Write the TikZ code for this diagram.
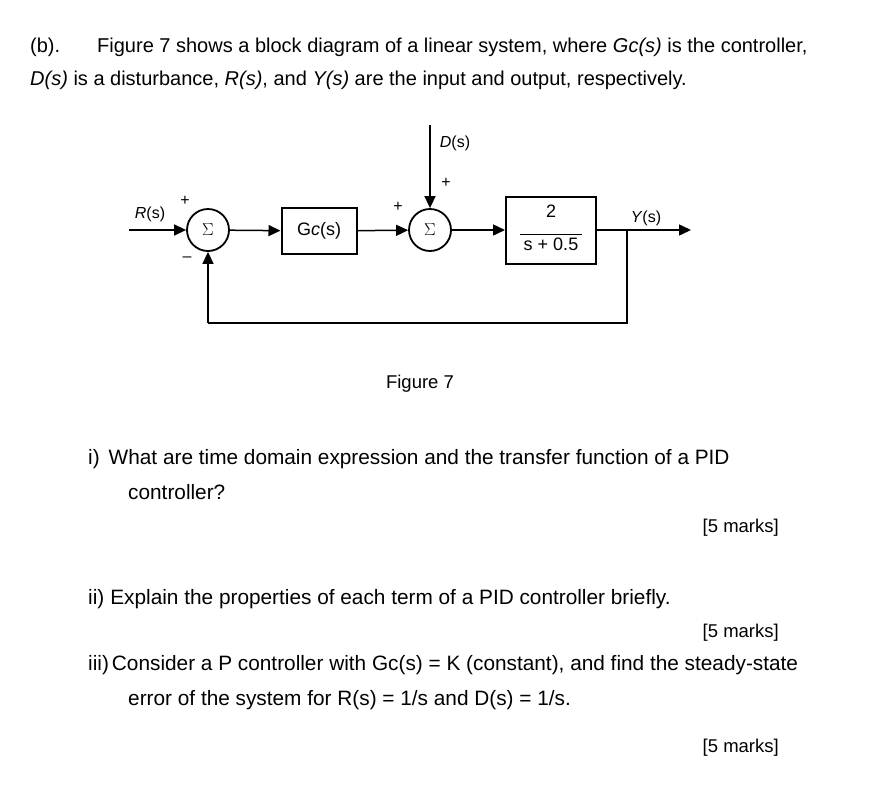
\documentclass[tikz,border=0pt]{standalone}
\usepackage{fontspec}
\setmainfont{Liberation Sans}
\usetikzlibrary{arrows.meta}
\begin{document}
\begin{tikzpicture}[x=1pt,y=-1pt,
  txt/.style={anchor=base west,inner sep=0,font=\fontsize{20}{22}\selectfont},
  qtxt/.style={anchor=base west,inner sep=0,font=\fontsize{20.8}{22}\selectfont},
  marks/.style={anchor=base east,inner sep=0,font=\fontsize{18.5}{20}\selectfont},
  dlab/.style={inner sep=0,font=\fontsize{16}{18}\selectfont},
  blk/.style={draw,line width=2pt,minimum width=75pt,minimum height=46pt,inner sep=0,font=\fontsize{18}{20}\selectfont},
  sumn/.style={circle,draw,line width=1.8pt,minimum size=42pt,inner sep=0,font=\fontsize{18}{20}\selectfont},
  sig/.style={line width=1.5pt,-{Triangle[length=12pt,width=11pt]}},
  ln/.style={line width=1.5pt}]
\useasboundingbox (0,0) rectangle (881,793);
\node[txt] (t1) at (30,52) {(b).};
\node[txt] (t1b) at (97,52) {Figure 7 shows a block diagram of a linear system, where \textit{Gc(s)} is the controller,};
\node[txt] (t2) at (30,85) {\textit{D(s)} is a disturbance, \textit{R(s)}, and \textit{Y(s)} are the input and output, respectively.};
% diagram
\node[sumn] (s1) at (208,230) {$\Sigma$};
\node[blk] (gc) at (319,231) {G\textit{c}(s)};
\node[sumn] (s2) at (430,230) {$\Sigma$};
\node[blk,minimum width=90pt,minimum height=67pt] (p) at (551,230) {\begin{tabular}{@{}c@{}}2\\[-3pt]\rule{62pt}{0.6pt}\\[-4pt]s + 0.5\end{tabular}};
\coordinate (in) at (129,230);
\coordinate (dtop) at (430,125);
\coordinate (br) at (627,230);
\coordinate (out) at (691,230);
\coordinate (fb1) at (627,323);
\coordinate (fb2) at (208,323);
\draw[sig] (in) -- (s1);
\draw[sig] (s1) -- (gc);
\draw[sig] (gc) -- (s2);
\draw[sig] (dtop) -- (s2);
\draw[sig] (s2) -- (p);
\draw[sig] (p) -- (out);
\draw[ln] (br) -- (fb1) -- (fb2);
\draw[sig] (fb2) -- (s1);
\node[dlab] (rl) at (150,214) {\textit{R}(s)};
\node[dlab] (yl) at (646,218) {\textit{Y}(s)};
\node[dlab] (dl) at (455,143) {\textit{D}(s)};
\node[dlab] (p1) at (185,201) {+};
\node[dlab] (m1) at (187,259) {\textendash};
\node[dlab] (p2) at (398,207) {+};
\node[dlab] (p3) at (446,183) {+};
\node[marks,anchor=base] (fig) at (420,388) {Figure 7};
% questions
\node[qtxt] (q1) at (88,464) {i)\hspace{9pt}What are time domain expression and the transfer function of a PID};
\node[qtxt] (q1b) at (128,499) {controller?};
\node[marks] (mk1) at (779,532) {[5 marks]};
\node[qtxt] (q2) at (88,604) {ii)\hspace{6pt}Explain the properties of each term of a PID controller briefly.};
\node[marks] (mk2) at (779,637) {[5 marks]};
\node[qtxt] (q3) at (88,670) {iii)\hspace{3pt}Consider a P controller with Gc(s) = K (constant), and find the steady-state};
\node[qtxt] (q3b) at (128,705) {error of the system for R(s) = 1/s and D(s) = 1/s.};
\node[marks] (mk3) at (779,752) {[5 marks]};
\end{tikzpicture}
\end{document}
